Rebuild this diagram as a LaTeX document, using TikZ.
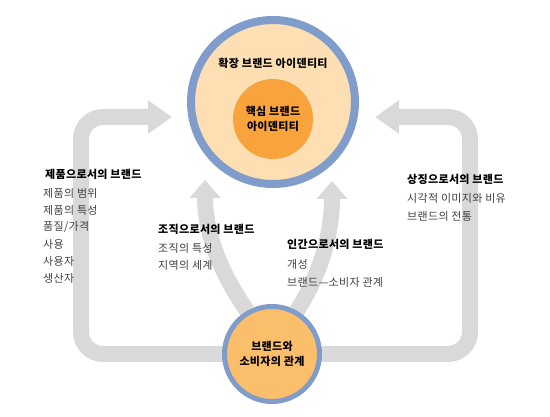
\documentclass[tikz,border=0pt]{standalone}
\usepackage{fontspec}
\setmainfont{Noto Sans CJK KR}[LetterSpace=3]
\usetikzlibrary{arrows.meta,backgrounds}
\definecolor{ringblue}{HTML}{7F9CCB}
\definecolor{extfill}{HTML}{FDDFB3}
\definecolor{corefill}{HTML}{F9A33C}
\definecolor{relfill}{HTML}{FBBF6C}
\definecolor{bandgray}{HTML}{D9D9D9}
\definecolor{itemgray}{HTML}{404040}
\begin{document}
\begin{tikzpicture}[x=1pt,y=-1pt]
			\tikzstyle{n} = [circle, inner sep=0, align=center, font=\fontsize{11}{15}\selectfont\bfseries]
			\tikzstyle{head} = [anchor=west, inner sep=0, font=\fontsize{11}{13}\selectfont\bfseries]
			\tikzstyle{item} = [anchor=west, inner sep=0, text=itemgray, font=\fontsize{11}{13}\selectfont]
			\tikzstyle{band} = [line width=16pt, bandgray, rounded corners=22pt, -{Triangle[length=24pt,width=32pt]}]
			\tikzstyle{bandin} = [line width=16pt, bandgray, -{Triangle[length=18pt,width=30pt]}]
			\useasboundingbox (0,0) rectangle (550,417);

			\node [n,draw=ringblue,line width=8pt,fill=extfill,minimum size=164pt] (ext) at (273,102) {};
			\node [n,fill=corefill,minimum size=80pt] (core) at (273,119) {핵심 브랜드\\아이덴티티};
			\node [head,anchor=center] (extname) at (273,63) {확장 브랜드 아이덴티티};
			\node [n,draw=ringblue,line width=5pt,fill=relfill,minimum size=95pt] (rel) at (272,354) {브랜드와\\소비자의 관계};

			\coordinate (lefttip) at (172,117);
			\coordinate (righttip) at (375,117);
			\coordinate (orgtip) at (205,180);
			\coordinate (humtip) at (332,181);

			\begin{scope}[on background layer]
			\draw [band] (rel.center) -- (81,354) -- (81,117) -- (lefttip);
			\draw [band] (rel.center) -- (470,354) -- (470,117) -- (righttip);
			\draw [bandin] (rel.120) .. controls (222,275) and (205,235) .. (orgtip);
			\draw [bandin] (rel.60) .. controls (320,275) and (332,235) .. (humtip);
			\end{scope}

			\node [head] (prodhead) at (45,174) {제품으로서의 브랜드};
			\node [item] (prod1) at (43,193) {제품의 범위};
			\node [item] (prod2) at (43,210) {제품의 특성};
			\node [item] (prod3) at (43,227) {품질/가격};
			\node [item] (prod4) at (43,244) {사용};
			\node [item] (prod5) at (43,261) {사용자};
			\node [item] (prod6) at (43,278) {생산자};

			\node [head] (orghead) at (158,229) {조직으로서의 브랜드};
			\node [item] (org1) at (158,248) {조직의 특성};
			\node [item] (org2) at (158,265) {지역의 세계};

			\node [head] (humhead) at (287,244) {인간으로서의 브랜드};
			\node [item] (hum1) at (287,264) {개성};
			\node [item] (hum2) at (287,282) {브랜드—소비자 관계};

			\node [head] (symhead) at (407,179) {상징으로서의 브랜드};
			\node [item] (sym1) at (407,198) {시각적 이미지와 비유};
			\node [item] (sym2) at (407,216) {브랜드의 전통};
\end{tikzpicture}
\end{document}
